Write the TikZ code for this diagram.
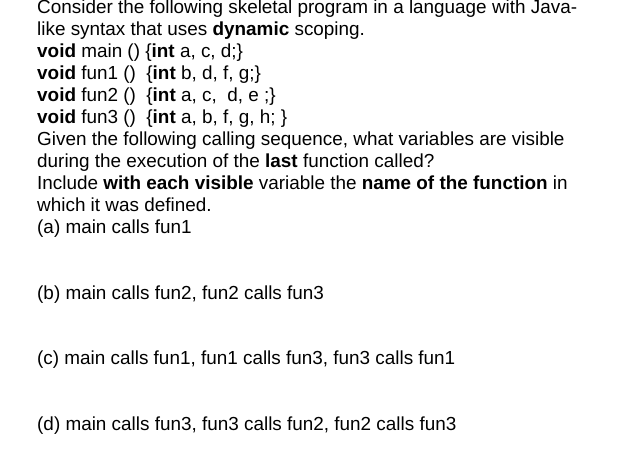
\documentclass[tikz,border=0pt]{standalone}
\usepackage{fontspec}
\setmainfont{Liberation Sans}
\begin{document}
\begin{tikzpicture}[x=1pt,y=-1pt,txt/.style={anchor=base west,inner sep=0pt,font=\fontsize{18.9}{22}\selectfont}]
\useasboundingbox[fill=white] (0,0) rectangle (640,465);
\node[txt] (l0) at (37,14) {Consider the following skeletal program in a language with Java-};
\node[txt] (l1) at (37,36) {like syntax that uses \textbf{dynamic} scoping.};
\node[txt] (l2) at (37,58) {\textbf{void} main () \{\textbf{int} a, c, d;\}};
\node[txt] (l3) at (37,80) {\textbf{void} fun1 ()\ \ \{\textbf{int} b, d, f, g;\}};
\node[txt] (l4) at (37,102) {\textbf{void} fun2 ()\ \ \{\textbf{int} a, c,\ \ d, e ;\}};
\node[txt] (l5) at (37,124) {\textbf{void} fun3 ()\ \ \{\textbf{int} a, b, f, g, h; \}};
\node[txt] (l6) at (37,146) {Given the following calling sequence, what variables are visible};
\node[txt] (l7) at (37,168) {during the execution of the \textbf{last} function called?};
\node[txt] (l8) at (37,190) {Include \textbf{with each visible} variable the \textbf{name of the function} in};
\node[txt] (l9) at (37,212) {which it was defined.};
\node[txt] (a) at (37,234) {(a) main calls fun1};
\node[txt] (b) at (37,299) {(b) main calls fun2, fun2 calls fun3};
\node[txt] (c) at (37,364) {(c) main calls fun1, fun1 calls fun3, fun3 calls fun1};
\node[txt] (d) at (37,430) {(d) main calls fun3, fun3 calls fun2, fun2 calls fun3};
\end{tikzpicture}
\end{document}
